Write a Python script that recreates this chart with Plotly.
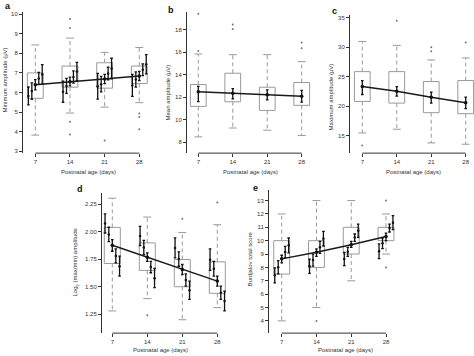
import plotly.graph_objects as go

W, H = 474, 356
ages = [7, 14, 21, 28]
offs5 = [-1.4, -0.7, 0.0, 0.7, 1.4]
BOX_HW = 1.6
CAP_HW = 0.8

# ---------------- Panel a : Minimum amplitude ----------------
a_q1 = [5.70, 6.27, 6.22, 6.46]
a_q3 = [7.00, 7.35, 7.52, 7.35]
a_lo = [3.82, 4.95, 5.25, 5.48]
a_hi = [8.43, 8.78, 8.05, 8.30]
a_out = [[], [9.75, 9.30, 4.50, 3.85], [3.55], [4.92, 4.75, 4.12]]
a_bar_lo = [[5.37, 5.65, 6.13, 6.41, 6.42], [5.50, 5.95, 6.34, 6.48, 6.60],
            [5.66, 6.03, 6.45, 6.65, 6.70], [5.80, 6.27, 6.61, 6.86, 6.95]]
a_bar_hi = [[6.28, 6.49, 6.66, 7.02, 7.42], [6.58, 6.72, 6.78, 7.10, 7.54],
            [6.98, 6.82, 6.93, 7.29, 7.75], [6.93, 7.05, 7.08, 7.46, 7.93]]
a_bar_mid = [[5.82, 6.07, 6.40, 6.72, 6.92], [6.04, 6.33, 6.55, 6.79, 7.07],
             [6.32, 6.42, 6.69, 6.97, 7.22], [6.36, 6.66, 6.84, 7.16, 7.44]]

# ---------------- Panel b : Mean amplitude ----------------
b_q1 = [11.18, 11.59, 10.82, 11.27]
b_q3 = [13.12, 14.12, 12.88, 13.30]
b_lo = [8.47, 9.26, 9.06, 8.59]
b_hi = [15.83, 15.77, 15.77, 15.15]
b_out = [[19.40, 16.10], [18.45, 18.05], [], [16.85, 16.35]]
b_bar_lo = [[11.60], [11.85], [11.75], [11.55]]
b_bar_hi = [[12.95], [12.75], [12.65], [12.60]]
b_bar_mid = [[12.47], [12.35], [12.22], [12.08]]

# ---------------- Panel c : Maximum amplitude ----------------
c_q1 = [20.83, 20.55, 18.93, 18.76]
c_q3 = [25.87, 25.87, 24.19, 24.36]
c_lo = [15.50, 16.13, 13.82, 13.60]
c_hi = [30.97, 30.30, 27.84, 28.18]
c_out = [[13.40], [34.45], [30.00, 29.30], [30.80]]
c_bar_lo = [[22.00], [21.72], [20.55], [19.60]]
c_bar_hi = [[24.36], [23.35], [22.40], [21.55]]
c_bar_mid = [[23.35], [22.55], [21.55], [20.60]]

# ---------------- Panel d : Log2(max/min) amplitude ----------------
d_q1 = [1.711, 1.648, 1.500, 1.440]
d_q3 = [2.039, 1.898, 1.747, 1.726]
d_lo = [1.280, 1.392, 1.200, 1.310]
d_hi = [2.304, 2.133, 1.993, 2.063]
d_out = [[], [1.240], [2.117], [2.265]]
d_bar_lo = [[1.988, 1.910, 1.822, 1.717, 1.596], [1.873, 1.792, 1.731, 1.627, 1.491],
            [1.762, 1.686, 1.611, 1.506, 1.385], [1.648, 1.596, 1.506, 1.385, 1.280]]
d_bar_hi = [[2.162, 2.040, 1.927, 1.843, 1.777], [2.048, 1.921, 1.807, 1.731, 1.666],
            [1.943, 1.816, 1.702, 1.617, 1.551], [1.843, 1.731, 1.596, 1.506, 1.460]]
d_bar_mid = [[2.075, 1.975, 1.876, 1.780, 1.686], [1.960, 1.856, 1.768, 1.679, 1.578],
             [1.852, 1.751, 1.656, 1.561, 1.468], [1.745, 1.663, 1.551, 1.445, 1.370]]

# ---------------- Panel e : Burdjalov total score ----------------
e_q1 = [7.5, 8.0, 9.0, 10.0]
e_q3 = [10.0, 10.0, 11.0, 11.0]
e_lo = [4.0, 5.0, 7.0, 9.0]
e_hi = [12.0, 13.0, 13.0, 12.0]
e_out = [[], [4.0], [], [13.0, 8.0]]
e_bar_lo = [[6.85, 7.52, 8.34, 8.71, 9.09], [7.55, 8.10, 8.83, 9.05, 9.60],
            [8.13, 8.83, 9.50, 9.95, 10.25], [8.66, 9.40, 10.00, 10.65, 10.82]]
e_bar_hi = [[7.97, 8.51, 8.91, 9.58, 10.20], [8.62, 9.00, 9.38, 9.95, 10.70],
            [9.13, 9.50, 9.95, 10.50, 11.24], [9.76, 10.20, 10.57, 11.24, 11.88]]
e_bar_mid = [[7.41, 8.02, 8.64, 9.15, 9.65], [8.09, 8.55, 9.13, 9.50, 10.15],
             [8.63, 9.17, 9.70, 10.23, 10.75], [9.21, 9.80, 10.32, 10.95, 11.35]]

x_title = "Postnatal age (days)"

panels = [
    dict(letter="a", ytitle="Minimum amplitude (μV)",
         q1=a_q1, q3=a_q3, lo=a_lo, hi=a_hi, out=a_out,
         blo=a_bar_lo, bhi=a_bar_hi, bmid=a_bar_mid, offs=offs5,
         yticks=[3, 4, 5, 6, 7, 8, 9, 10], yticktext=None,
         px=(23, 152, 11, 153), xcal=(35.3, 139.3), ycal=(10, 13.3, 3, 151),
         letter_pos=(3, 5), ytitle_pos=(5, 80), xtitle_pos=(88, 172)),
    dict(letter="b", ytitle="Mean amplitude (μV)",
         q1=b_q1, q3=b_q3, lo=b_lo, hi=b_hi, out=b_out,
         blo=b_bar_lo, bhi=b_bar_hi, bmid=b_bar_mid, offs=[0.0],
         yticks=[8, 10, 12, 14, 16, 18], yticktext=None,
         px=(187, 312, 11, 153), xcal=(198.3, 301.7), ycal=(18, 28.7, 8, 142),
         letter_pos=(166, 9), ytitle_pos=(168, 92), xtitle_pos=(250, 172)),
    dict(letter="c", ytitle="Maximum amplitude (μV)",
         q1=c_q1, q3=c_q3, lo=c_lo, hi=c_hi, out=c_out,
         blo=c_bar_lo, bhi=c_bar_hi, bmid=c_bar_mid, offs=[0.0],
         yticks=[15, 20, 25, 30, 35], yticktext=None,
         px=(350, 474, 14, 153), xcal=(362.3, 465.7), ycal=(35, 16.7, 15, 135.7),
         letter_pos=(330, 10), ytitle_pos=(331, 97), xtitle_pos=(413, 172)),
    dict(letter="d", ytitle="Log<sub>2</sub> (max/min) amplitude",
         q1=d_q1, q3=d_q3, lo=d_lo, hi=d_hi, out=d_out,
         blo=d_bar_lo, bhi=d_bar_hi, bmid=d_bar_mid, offs=[-1.45, -0.7, 0.0, 0.7, 1.45],
         yticks=[1.25, 1.5, 1.75, 2.0, 2.25], yticktext=["1.25", "1.50", "1.75", "2.00", "2.25"],
         px=(102, 232, 193, 334), xcal=(112.3, 217.3), ycal=(2.25, 204.3, 1.25, 315),
         letter_pos=(75, 189), ytitle_pos=(76, 263), xtitle_pos=(160, 351)),
    dict(letter="e", ytitle="Burdjalov total score",
         q1=e_q1, q3=e_q3, lo=e_lo, hi=e_hi, out=e_out,
         blo=e_bar_lo, bhi=e_bar_hi, bmid=e_bar_mid, offs=offs5,
         yticks=[4, 5, 6, 7, 8, 9, 10, 11, 12, 13], yticktext=None,
         px=(269, 402, 190, 334), xcal=(281.7, 386), ycal=(13, 200.7, 4, 321.7),
         letter_pos=(251, 188), ytitle_pos=(250, 260), xtitle_pos=(345, 351)),
]

FONT = "Liberation Sans, Arial, sans-serif"
BOX_C = "#9a9a9a"
AX_C = "#333333"

fig = go.Figure()
layout = dict(width=W, height=H, margin=dict(l=0, r=0, t=0, b=0),
              paper_bgcolor="white", plot_bgcolor="white", showlegend=False,
              font=dict(family=FONT, size=6, color=AX_C))
annotations = []
shapes = []

for i, p in enumerate(panels):
    n = "" if i == 0 else str(i + 1)
    xa, ya = "x" + n, "y" + n
    left, right, top, bottom = p["px"]
    kx = (28 - 7) / (p["xcal"][1] - p["xcal"][0])
    xr = [7 + (left - p["xcal"][0]) * kx, 7 + (right - p["xcal"][0]) * kx]
    v0, q0, v1, q1 = p["ycal"]
    ky = (v1 - v0) / (q1 - q0)
    yr = [v0 + (bottom - q0) * ky, v0 + (top - q0) * ky]

    layout["xaxis" + n] = dict(domain=[left / W, right / W], range=xr, anchor=ya,
                               showline=False, showgrid=False, zeroline=False,
                               ticks="outside", ticklen=3, tickwidth=1, tickcolor=AX_C,
                               tickvals=ages, tickfont=dict(size=6, color=AX_C))
    layout["yaxis" + n] = dict(domain=[1 - bottom / H, 1 - top / H], range=yr, anchor=xa,
                               showline=True, linecolor=AX_C, linewidth=1,
                               showgrid=False, zeroline=False,
                               ticks="outside", ticklen=3, tickwidth=1, tickcolor=AX_C,
                               tickvals=p["yticks"],
                               ticktext=p["yticktext"] if p["yticktext"] else [str(v) for v in p["yticks"]],
                               tickfont=dict(size=6, color=AX_C))
    shapes.append(dict(type="line", xref=xa, yref=ya + " domain", x0=7, x1=28, y0=0, y1=0,
                       line=dict(color=AX_C, width=1)))

    bx, by, wx, wy, cx, cy, ox, oy = [], [], [], [], [], [], [], []
    for j, a in enumerate(ages):
        bx += [a - BOX_HW, a + BOX_HW, a + BOX_HW, a - BOX_HW, a - BOX_HW, None]
        by += [p["q1"][j], p["q1"][j], p["q3"][j], p["q3"][j], p["q1"][j], None]
        wx += [a, a, None, a, a, None]
        wy += [p["q3"][j], p["hi"][j], None, p["q1"][j], p["lo"][j], None]
        cx += [a - CAP_HW, a + CAP_HW, None, a - CAP_HW, a + CAP_HW, None]
        cy += [p["hi"][j], p["hi"][j], None, p["lo"][j], p["lo"][j], None]
        for v in p["out"][j]:
            ox.append(a)
            oy.append(v)
    fig.add_trace(go.Scatter(x=wx, y=wy, mode="lines", xaxis=xa, yaxis=ya,
                             line=dict(color=BOX_C, width=1, dash="4px,3px"), hoverinfo="skip"))
    fig.add_trace(go.Scatter(x=cx, y=cy, mode="lines", xaxis=xa, yaxis=ya,
                             line=dict(color=BOX_C, width=1), hoverinfo="skip"))
    fig.add_trace(go.Scatter(x=bx, y=by, mode="lines", xaxis=xa, yaxis=ya,
                             line=dict(color=BOX_C, width=1), hoverinfo="skip"))
    fig.add_trace(go.Scatter(x=ox, y=oy, mode="markers", xaxis=xa, yaxis=ya,
                             marker=dict(color="#777777", size=2), hoverinfo="skip"))

    ex, ey, ep, em = [], [], [], []
    mx, my = [], []
    for j, a in enumerate(ages):
        for k, o in enumerate(p["offs"]):
            mid = p["bmid"][j][k]
            ex.append(a + o)
            ey.append(mid)
            ep.append(p["bhi"][j][k] - mid)
            em.append(mid - p["blo"][j][k])
            if o == 0.0:
                mx.append(a)
                my.append(mid)
    fig.add_trace(go.Scatter(x=ex, y=ey, mode="markers", xaxis=xa, yaxis=ya,
                             marker=dict(color="#111111", size=2.5),
                             error_y=dict(type="data", symmetric=False, array=ep, arrayminus=em,
                                          color="#111111", thickness=1.3, width=1.3),
                             hoverinfo="skip"))
    fig.add_trace(go.Scatter(x=mx, y=my, mode="lines+markers", xaxis=xa, yaxis=ya,
                             line=dict(color="#1a1a1a", width=1.5),
                             marker=dict(color="#111111", size=3.5), hoverinfo="skip"))

    lx, ly = p["letter_pos"]
    annotations.append(dict(text="<b>" + p["letter"] + "</b>", xref="paper", yref="paper",
                            x=lx / W, y=1 - ly / H, xanchor="left", yanchor="middle",
                            showarrow=False, font=dict(size=9, color="#111111")))
    tx, ty = p["ytitle_pos"]
    annotations.append(dict(text=p["ytitle"], xref="paper", yref="paper",
                            x=tx / W, y=1 - ty / H, xanchor="center", yanchor="middle",
                            textangle=-90, showarrow=False, font=dict(size=6, color=AX_C)))
    sx, sy = p["xtitle_pos"]
    annotations.append(dict(text=x_title, xref="paper", yref="paper",
                            x=sx / W, y=1 - sy / H, xanchor="center", yanchor="middle",
                            showarrow=False, font=dict(size=6, color=AX_C)))

layout["annotations"] = annotations
layout["shapes"] = shapes
fig.update_layout(**layout)
fig.write_html("out.html", config={"displayModeBar": False},
               post_script="document.body.style.margin='0px';")
